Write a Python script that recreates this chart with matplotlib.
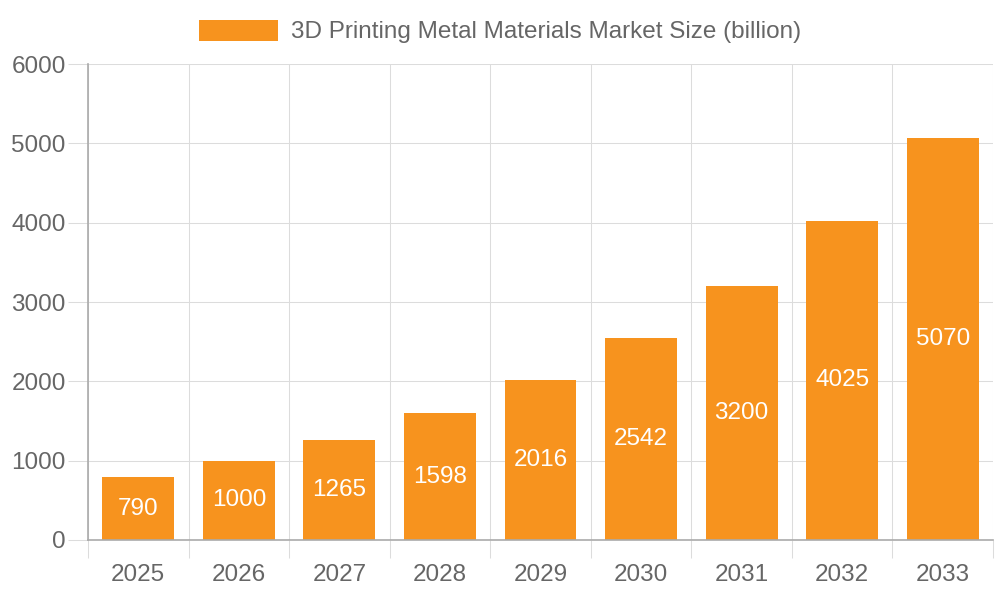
import matplotlib
matplotlib.use("Agg")
import matplotlib.pyplot as plt
import numpy as np

years = ["2025", "2026", "2027", "2028", "2029", "2030", "2031", "2032", "2033"]
market_size = [790, 1000, 1265, 1598, 2016, 2542, 3200, 4025, 5070]
series_name = "3D Printing Metal Materials Market Size (billion)"

plt.rcParams["font.family"] = ["Liberation Sans", "DejaVu Sans"]

bar_color = "#F7931E"
text_color = "#666666"
grid_color = "#dcdcdc"
axis_color = "#aaaaaa"
fs = 17.5

fig = plt.figure(figsize=(10, 6), dpi=100)
ax = fig.add_axes([0.088, 0.10, 0.905, 0.7933])

x = np.arange(len(years))
bars = ax.bar(x, market_size, width=0.716, color=bar_color, label=series_name, zorder=3)

for rect, v in zip(bars, market_size):
    ax.text(rect.get_x() + rect.get_width() / 2, v / 2, str(v),
            ha="center", va="center", color="white", fontsize=fs, zorder=4)

ax.set_xlim(-0.5, len(years) - 0.5)
ax.set_ylim(0, 6000)

# category labels at centres, grid lines on boundaries
ax.set_xticks(x)
ax.set_xticklabels(years)
ax.set_xticks(np.arange(-0.5, len(years)), minor=True)
ax.tick_params(axis="x", which="major", length=0, pad=17, labelsize=fs, labelcolor=text_color)
ax.tick_params(axis="x", which="minor", length=13, width=0.75, color=grid_color)

ax.set_yticks(np.arange(0, 6001, 1000))
ax.tick_params(axis="y", length=14.5, width=0.75, color=grid_color, pad=1.5,
               labelsize=fs, labelcolor=text_color)

ax.grid(True, axis="y", color=grid_color, linewidth=0.75, zorder=0)
ax.grid(True, axis="x", which="minor", color=grid_color, linewidth=0.75, zorder=0)

for side in ["top", "right"]:
    ax.spines[side].set_visible(False)
for side in ["left", "bottom"]:
    ax.spines[side].set_color(axis_color)
    ax.spines[side].set_linewidth(1.2)
    ax.spines[side].set_zorder(5)

fig.legend(handles=[bars], labels=[series_name], loc="center", bbox_to_anchor=(0.5, 0.9475),
           frameon=False, fontsize=fs, labelcolor=text_color,
           handlelength=3.25, handleheight=0.96, handletextpad=0.5)

fig.savefig("out.png", dpi=100)
